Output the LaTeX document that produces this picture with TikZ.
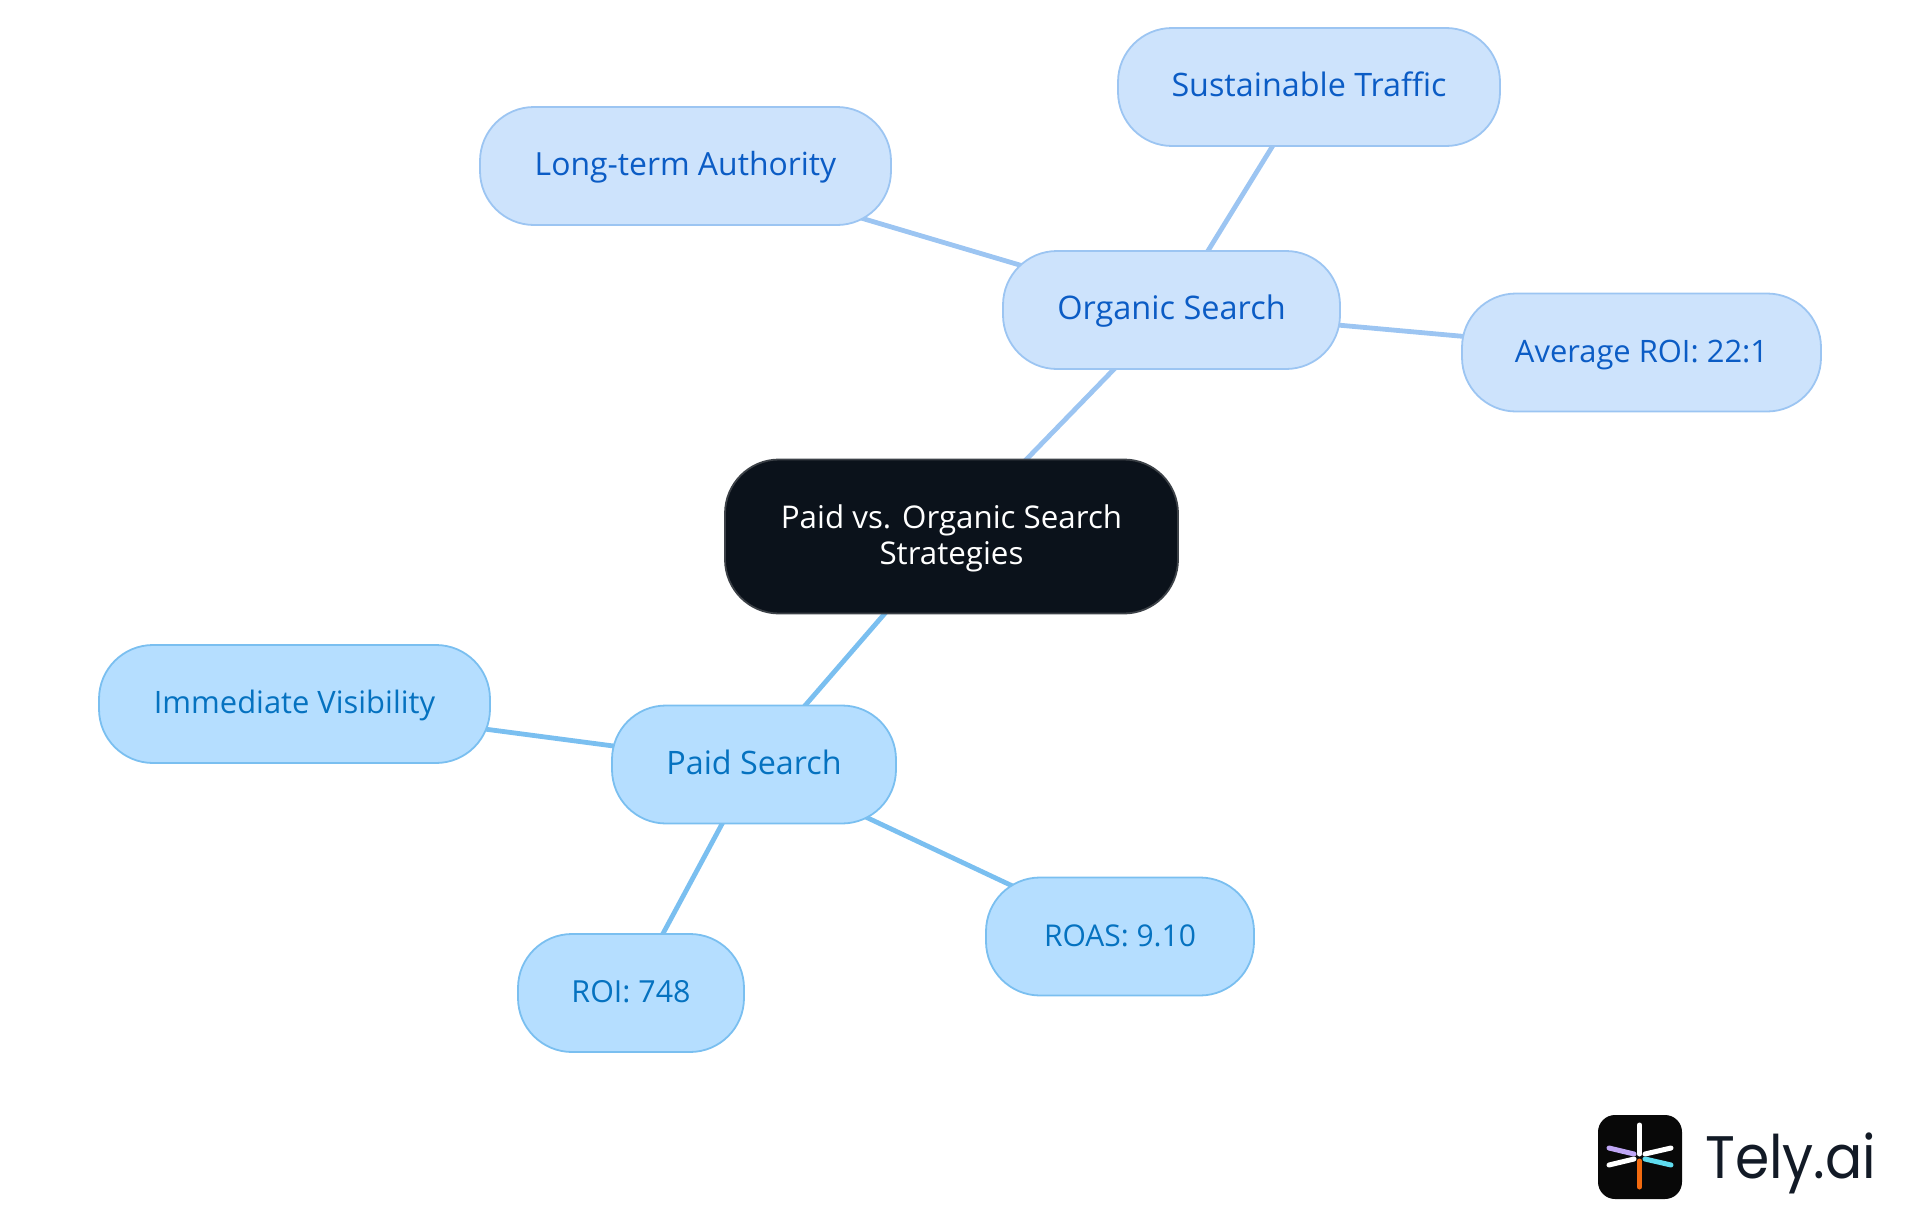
\documentclass[tikz,border=0pt]{standalone}
\usepackage{graphicx}
\usepackage{fontspec}
\setmainfont{Open Sans}
\newfontfamily\logofont{Poppins}
\usetikzlibrary{backgrounds}
\definecolor{rootfill}{HTML}{0B121B}
\definecolor{rootline}{HTML}{3C4147}
\definecolor{orgfill}{HTML}{CDE3FC}
\definecolor{orgline}{HTML}{9CC5F2}
\definecolor{orgtext}{HTML}{0B5CC5}
\definecolor{paidfill}{HTML}{B5DEFF}
\definecolor{paidline}{HTML}{7ABFF0}
\definecolor{paidtext}{HTML}{0572C0}
\definecolor{logoblack}{HTML}{080808}
\definecolor{logopurple}{HTML}{BFA6F5}
\definecolor{logocyan}{HTML}{5FDCEF}
\definecolor{logoorange}{HTML}{F26A0F}
\definecolor{logotext}{HTML}{121A26}
\tikzset{
  fs/.style={font=\fontsize{#1}{36}\selectfont},
  basebox/.style={rounded corners=54pt, line width=1.8pt, inner sep=0pt, align=center,
    minimum height=118pt},
  box/.style={basebox, text height=25pt, text depth=6pt},
  rootbox/.style={basebox, draw=rootline, fill=rootfill, text=white, minimum height=154pt},
  orgbox/.style={box, draw=orgline, fill=orgfill, text=orgtext},
  paidbox/.style={box, draw=paidline, fill=paidfill, text=paidtext},
  orglink/.style={draw=orgline, line width=4.8pt},
  paidlink/.style={draw=paidline, line width=4.8pt},
  spoke/.style={line width=5pt, line cap=round}
}
\begin{document}
\begin{tikzpicture}[x=1pt,y=-1pt]
\useasboundingbox (0,0) rectangle (1920,1215);
\node[rootbox, fs=31.3, minimum width=453pt] (root) at (951.5,536.5) {\rule{0pt}{27pt}Paid vs. Organic Search\\Strategies};
\node[orgbox, fs=32.5, minimum width=337pt] (org) at (1171.5,310) {Organic Search};
\node[orgbox, fs=31.9, minimum width=411pt] (auth) at (685.5,166) {Long-term Authority};
\node[orgbox, fs=32.3, minimum width=382pt] (traffic) at (1309,87) {Sustainable Traffic};
\node[orgbox, fs=30.9, minimum width=359pt] (roi22) at (1641.5,352.5) {Average ROI: 22:1};
\node[paidbox, fs=32.3, minimum width=284pt] (paid) at (754,764.5) {Paid Search};
\node[paidbox, fs=30.9, minimum width=391pt] (vis) at (294.5,704) {Immediate Visibility};
\node[paidbox, fs=30.4, minimum width=226pt] (roi) at (631,993) {ROI: 748};
\node[paidbox, fs=30, minimum width=268pt] (roas) at (1120,936.5) {ROAS: 9.10};
\begin{scope}[on background layer]
\draw[orglink] (root.center) -- (org.center);
\draw[orglink] (org.center) -- (auth.center);
\draw[orglink] (org.center) -- (traffic.center);
\draw[orglink] (org.center) -- (roi22.center);
\draw[paidlink] (root.center) -- (paid.center);
\draw[paidlink] (paid.center) -- (vis.center);
\draw[paidlink] (paid.center) -- (roi.center);
\draw[paidlink] (paid.center) -- (roas.center);
\end{scope}
% logo
\fill[logoblack, rounded corners=17pt] (1598,1115) rectangle (1682,1199);
\draw[spoke, white] (1639.5,1154) -- (1639.5,1125);
\draw[spoke, logoorange] (1639.5,1161) -- (1639.5,1187);
\draw[spoke, logopurple] (1634,1154) -- (1609,1148);
\draw[spoke, white] (1634,1159) -- (1609,1165);
\draw[spoke, white] (1645,1154) -- (1671,1148);
\draw[spoke, logocyan] (1645,1159) -- (1671,1165);
\node[anchor=base west, inner sep=0pt, text=logotext, font=\logofont\fontsize{60}{60}\selectfont] (logotxt) at (1705,1178) {\scalebox{0.92}[1]{Tely.ai}};
\end{tikzpicture}
\end{document}
